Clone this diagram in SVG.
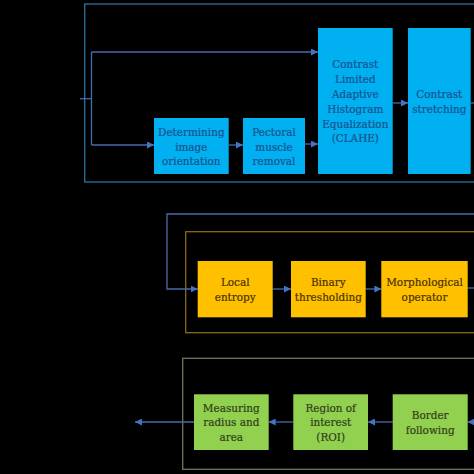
<svg xmlns="http://www.w3.org/2000/svg" width="474" height="474" viewBox="0 0 474 474">
<defs>
<style>
.t{font-family:"DejaVu Serif Condensed","DejaVu Serif","Liberation Serif",serif;font-size:11.6px;text-anchor:middle;stroke-width:0.2px}
.tb{fill:#1a528f;stroke:#1a528f}
.to{fill:#4a3200;stroke:#4a3200}
.tg{fill:#2f4018;stroke:#2f4018}
.bb{fill:#00b0f0}
.bo{fill:#ffc000}
.bg{fill:#92d050}
.c{fill:none;stroke:#4a6aa8;stroke-width:1.3}
</style>
<marker id="a" viewBox="0 0 10 10" refX="10" refY="5" markerWidth="7" markerHeight="7" markerUnits="userSpaceOnUse" orient="auto">
<path d="M0,0 L10,5 L0,10 z" fill="#4472c4"/>
</marker>
</defs>
<rect width="474" height="474" fill="#000"/>
<g id="frames" fill="none" stroke-width="1.3">
<rect x="84.7" y="4" width="400" height="178" stroke="#2f6f9f"/>
<rect x="185.7" y="231.7" width="300" height="101" stroke="#8a6a1a"/>
<rect x="182.7" y="358.3" width="300" height="111" stroke="#6a7a5a"/>
</g>
<g id="connectors">
<path class="c" d="M80,98.7 H91.5"/>
<path class="c" d="M91.5,52 V145"/>
<path class="c" d="M91.5,52 H318" marker-end="url(#a)"/>
<path class="c" d="M91.5,145 H154" marker-end="url(#a)"/>
<path class="c" d="M228.7,145 H243" marker-end="url(#a)"/>
<path class="c" d="M305,144 H318" marker-end="url(#a)"/>
<path class="c" d="M392.7,103 H408" marker-end="url(#a)"/>
<path class="c" d="M470.7,103 H474"/>
<path class="c" d="M474,214 H167 V289 H197.7" marker-end="url(#a)"/>
<path class="c" d="M272.7,289 H291" marker-end="url(#a)"/>
<path class="c" d="M365.7,289 H381.3" marker-end="url(#a)"/>
<path class="c" d="M467.7,288 H474"/>
<path class="c" d="M476,422 H467.7" marker-end="url(#a)"/>
<path class="c" d="M392.7,422 H368" marker-end="url(#a)"/>
<path class="c" d="M293.3,422 H268.7" marker-end="url(#a)"/>
<path class="c" d="M194,422 H135" marker-end="url(#a)"/>
</g>
<g id="n-orient">
<rect class="bb" x="154" y="118" width="74.7" height="56"/>
<text class="t tb" x="191.3" y="135.7">Determining</text>
<text class="t tb" x="191.3" y="150.7">image</text>
<text class="t tb" x="191.3" y="165.3">orientation</text>
</g>
<g id="n-pectoral">
<rect class="bb" x="243" y="118" width="62" height="56"/>
<text class="t tb" x="274" y="135.7">Pectoral</text>
<text class="t tb" x="274" y="150.7">muscle</text>
<text class="t tb" x="274" y="165.3">removal</text>
</g>
<g id="n-clahe">
<rect class="bb" x="318" y="28" width="74.7" height="146"/>
<text class="t tb" x="355.3" y="68">Contrast</text>
<text class="t tb" x="355.3" y="83">Limited</text>
<text class="t tb" x="355.3" y="98">Adaptive</text>
<text class="t tb" x="355.3" y="113">Histogram</text>
<text class="t tb" x="355.3" y="128">Equalization</text>
<text class="t tb" x="355.3" y="142">(CLAHE)</text>
</g>
<g id="n-stretch">
<rect class="bb" x="408" y="28" width="62.7" height="146"/>
<text class="t tb" x="439.3" y="98">Contrast</text>
<text class="t tb" x="439.3" y="113">stretching</text>
</g>
<g id="n-entropy">
<rect class="bo" x="197.7" y="261" width="75" height="56.3"/>
<text class="t to" x="235.2" y="285.7">Local</text>
<text class="t to" x="235.2" y="300.7">entropy</text>
</g>
<g id="n-binary">
<rect class="bo" x="291" y="261" width="74.7" height="56.3"/>
<text class="t to" x="328.3" y="285.7">Binary</text>
<text class="t to" x="328.3" y="300.7">thresholding</text>
</g>
<g id="n-morph">
<rect class="bo" x="381.3" y="261" width="86.4" height="56.3"/>
<text class="t to" x="424.5" y="285.7">Morphological</text>
<text class="t to" x="424.5" y="300.7">operator</text>
</g>
<g id="n-measure">
<rect class="bg" x="194" y="394.3" width="74.7" height="55.7"/>
<text class="t tg" x="231.3" y="412.3">Measuring</text>
<text class="t tg" x="231.3" y="426.3">radius and</text>
<text class="t tg" x="231.3" y="441.3">area</text>
</g>
<g id="n-roi">
<rect class="bg" x="293.3" y="394.3" width="74.7" height="55.7"/>
<text class="t tg" x="330.7" y="412.3">Region of</text>
<text class="t tg" x="330.7" y="426.3">interest</text>
<text class="t tg" x="330.7" y="441.3">(ROI)</text>
</g>
<g id="n-border">
<rect class="bg" x="392.7" y="394.3" width="75" height="55.7"/>
<text class="t tg" x="430.2" y="419">Border</text>
<text class="t tg" x="430.2" y="434">following</text>
</g>
</svg>
